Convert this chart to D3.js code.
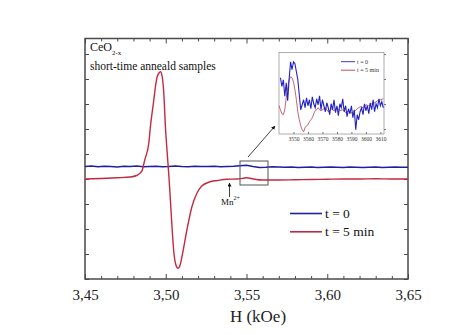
<!DOCTYPE html>
<html><head><meta charset="utf-8">
<script src="https://cdn.jsdelivr.net/npm/d3@7"></script>
<style>body{margin:0;background:#fff}svg{display:block}</style>
</head><body><div id="c"></div>
<script>
// ---------- DATA ----------
const xTicksMajor = [3.45, 3.50, 3.55, 3.60, 3.65];
const xTicksMinor = [3.46,3.47,3.48,3.49,3.51,3.52,3.53,3.54,3.56,3.57,3.58,3.59,3.61,3.62,3.63,3.64];
const yTicks = [0,1,2,3,4,5,6,7,8,9];
const seriesNames = ["t = 0", "t = 5 min"];
const seriesColors = ["#1f1fa0", "#c42a3e"];

// t = 0 (blue): H from 3.45 to 3.65 step 0.004
const blueStart = 3.45, blueStep = 0.004;
const blueVals = [4.50,4.52,4.49,4.51,4.50,4.48,4.51,4.50,4.52,4.49,4.50,4.51,4.49,4.50,4.52,4.50,4.49,4.51,4.50,4.50,4.51,4.49,4.50,4.51,4.53,4.55,4.50,4.46,4.47,4.49,4.48,4.47,4.48,4.46,4.47,4.48,4.46,4.47,4.48,4.47,4.46,4.48,4.47,4.46,4.47,4.48,4.46,4.47,4.48,4.47,4.47];

// t = 5 min (red)
const redH = [3.450,3.460,3.470,3.478,3.482,3.484,3.4855,3.486,3.487,3.4895,3.4905,3.4926,3.4936,3.4947,3.4957,3.4968,3.4978,3.4988,3.4998,3.5009,3.5019,3.5025,3.5040,3.5050,3.5063,3.5076,3.5089,3.5100,3.5131,3.5162,3.5193,3.5220,3.527,3.532,3.538,3.544,3.548,3.550,3.553,3.556,3.560,3.570,3.580,3.590,3.600,3.610,3.620,3.630,3.640,3.650];
const redVals = [4.00,4.02,4.05,4.08,4.14,4.23,4.36,4.49,4.76,5.43,6.09,7.16,7.69,8.09,8.23,8.29,8.09,7.43,6.09,5.04,4.16,3.56,1.96,1.08,0.56,0.43,0.56,0.88,1.96,2.89,3.43,3.70,3.88,3.94,3.99,4.00,4.03,4.05,4.02,3.98,3.96,3.96,3.97,3.98,3.99,4.00,4.00,4.01,4.00,4.00];

// inset (Oe)
const insetXTicks = [3550,3560,3570,3580,3590,3600,3610];
const insetYTicks = [0,1,2,3];
const insetBlueStart = 3541, insetBlueStep = 1;
const insetBlueVals = [2.05,1.70,1.97,1.31,1.85,1.13,2.01,2.69,2.37,2.69,2.61,2.29,1.97,1.37,0.77,0.97,1.17,0.85,1.25,0.93,1.17,0.81,1.29,1.01,0.85,1.21,0.97,1.33,0.77,1.17,0.93,0.69,1.05,0.85,0.57,1.01,0.77,1.17,0.65,0.93,0.53,1.01,0.85,1.21,0.69,0.93,0.49,0.81,0.61,0.93,0.45,0.77,-0.03,0.57,0.37,0.69,0.85,0.57,1.01,0.73,0.93,0.61,1.05,0.77,1.17,0.69,1.01,0.85,1.21,0.93,1.09,0.85];
const insetRedX = [3540,3541,3542,3543,3544,3545,3546,3547,3548,3549,3550,3551,3552,3553,3554,3555,3556,3557,3558,3559,3560,3561,3562,3563,3564,3565,3566,3567,3568,3569,3570,3572,3574,3576,3578,3580,3582,3584,3586,3588,3590,3592,3594,3596,3598,3600,3602,3604,3606,3608,3610,3612];
const insetRedVals = [0.93,0.77,0.61,0.57,0.77,1.25,1.65,1.97,2.09,2.05,1.89,1.57,1.17,0.69,0.37,0.13,-0.03,-0.11,0.05,0.13,0.17,0.29,0.37,0.45,0.61,0.73,0.77,0.85,0.77,0.73,0.77,0.85,0.69,0.81,0.73,0.85,0.73,0.77,0.65,0.73,0.65,0.69,0.81,0.89,0.85,0.97,0.93,1.01,1.05,1.13,1.17,1.21];

// ---------- LAYOUT ----------
const W = 474, H = 335;
const FONT = "'Liberation Serif', 'DejaVu Serif', serif";
const m = {left: 85, right: 408, top: 38.5, bottom: 279};
const svg = d3.select("#c").append("svg").attr("width", W).attr("height", H)
  .attr("font-family", FONT);

const x = d3.scaleLinear().domain([3.45, 3.65]).range([m.left, m.right]);
const y = d3.scaleLinear().domain([0, (m.bottom - m.top) / 25]).range([m.bottom, m.top]);
const frameColor = "#4a4a4a";
const fmt = v => d3.format(".2f")(v).replace(".", ",");

function styleAxis(g) {
  g.attr("font-family", FONT);
  g.select(".domain").remove();
  g.selectAll(".tick line").attr("stroke", frameColor).attr("stroke-width", 1);
}
// bottom major
svg.append("g").attr("transform", `translate(0,${m.bottom})`)
  .call(d3.axisBottom(x).tickValues(xTicksMajor).tickSizeInner(-5).tickSizeOuter(0).tickPadding(10).tickFormat(fmt))
  .call(styleAxis)
  .call(g => g.selectAll("text").attr("font-size", 15).attr("fill", "#222").attr("dy", "0.71em"));
svg.append("g").attr("transform", `translate(0,${m.bottom})`)
  .call(d3.axisBottom(x).tickValues(xTicksMinor).tickSizeInner(-3).tickSizeOuter(0).tickFormat(""))
  .call(styleAxis);
// top
svg.append("g").attr("transform", `translate(0,${m.top})`)
  .call(d3.axisTop(x).tickValues(xTicksMajor).tickSizeInner(-5).tickSizeOuter(0).tickFormat(""))
  .call(styleAxis);
svg.append("g").attr("transform", `translate(0,${m.top})`)
  .call(d3.axisTop(x).tickValues(xTicksMinor).tickSizeInner(-3).tickSizeOuter(0).tickFormat(""))
  .call(styleAxis);
// left/right
svg.append("g").attr("transform", `translate(${m.left},0)`)
  .call(d3.axisLeft(y).tickValues(yTicks).tickSizeInner(-4).tickSizeOuter(0).tickFormat(""))
  .call(styleAxis);
svg.append("g").attr("transform", `translate(${m.right},0)`)
  .call(d3.axisRight(y).tickValues(yTicks).tickSizeInner(-4).tickSizeOuter(0).tickFormat(""))
  .call(styleAxis);

svg.append("rect").attr("x", m.left).attr("y", m.top)
  .attr("width", m.right - m.left).attr("height", m.bottom - m.top)
  .attr("fill", "none").attr("stroke", frameColor).attr("stroke-width", 1.5);

// axis title
svg.append("text").attr("x", 258).attr("y", 322).attr("text-anchor", "middle")
  .attr("font-size", 17).attr("fill", "#222").text("H (kOe)");

// lines
const line = d3.line().x(d => x(d[0])).y(d => y(d[1]));
const blueData = blueVals.map((v, i) => [blueStart + i * blueStep, v]);
const redData = redVals.map((v, i) => [redH[i], v]);
svg.append("path").datum(blueData).attr("d", line).attr("fill", "none")
  .attr("stroke", seriesColors[0]).attr("stroke-width", 1.6);
svg.append("path").datum(redData).attr("d", d3.line().x(d => x(d[0])).y(d => y(d[1])).curve(d3.curveMonotoneX)).attr("fill", "none")
  .attr("stroke", seriesColors[1]).attr("stroke-width", 1.4);

// annotations
const t1 = svg.append("text").attr("x", 90).attr("y", 51).attr("font-size", 12).attr("fill", "#111");
t1.append("tspan").text("CeO");
t1.append("tspan").attr("font-size", 7).attr("dy", 4).text("2-x");
svg.append("text").attr("x", 90).attr("y", 70).attr("font-size", 11.5).attr("fill", "#111")
  .text("short-time anneald samples");

// Mn2+ marker
const defs = svg.append("defs");
defs.append("marker").attr("id", "ah").attr("viewBox", "0 0 10 10").attr("refX", 9).attr("refY", 5)
  .attr("markerWidth", 5).attr("markerHeight", 5).attr("orient", "auto")
  .append("path").attr("d", "M0,0 L10,5 L0,10 z").attr("fill", "#111");
svg.append("line").attr("x1", 229.5).attr("y1", 197).attr("x2", 229.5).attr("y2", 183)
  .attr("stroke", "#111").attr("stroke-width", 0.8).attr("marker-end", "url(#ah)");
const mn = svg.append("text").attr("x", 221).attr("y", 205).attr("font-size", 9).attr("fill", "#111");
mn.append("tspan").text("Mn");
mn.append("tspan").attr("font-size", 6).attr("dy", -5).text("2+");

// zoom box and arrow
svg.append("rect").attr("x", 240).attr("y", 161).attr("width", 28).attr("height", 24)
  .attr("fill", "none").attr("stroke", "#555").attr("stroke-width", 1);
svg.append("line").attr("x1", 248).attr("y1", 157).attr("x2", 275).attr("y2", 126)
  .attr("stroke", "#111").attr("stroke-width", 0.8).attr("marker-end", "url(#ah)");

// ---------- INSET ----------
const im = {left: 279, right: 384, top: 52.5, bottom: 134};
const ix = d3.scaleLinear().domain([3540, 3612.5]).range([im.left, im.right]);
const iy = d3.scaleLinear().domain([-0.2, (im.bottom - im.top) / 25 - 0.2]).range([im.bottom, im.top]);
const ig = svg.append("g");
ig.append("rect").attr("x", im.left).attr("y", im.top).attr("width", im.right - im.left)
  .attr("height", im.bottom - im.top).attr("fill", "#fff").attr("stroke", "#999").attr("stroke-width", 0.8);
ig.append("g").attr("transform", `translate(0,${im.bottom})`)
  .call(d3.axisBottom(ix).tickValues(insetXTicks).tickSizeInner(-2).tickSizeOuter(0).tickPadding(3).tickFormat(d3.format("d")))
  .call(g => { g.attr("font-family", FONT); g.select(".domain").remove(); g.selectAll("line").attr("stroke", "#777"); })
  .call(g => g.selectAll("text").attr("font-size", 5.5).attr("fill", "#333"));
ig.append("g").attr("transform", `translate(${im.right},0)`)
  .call(d3.axisRight(iy).tickValues(insetYTicks).tickSizeInner(2).tickSizeOuter(0).tickFormat(""))
  .call(g => { g.select(".domain").remove(); g.selectAll("line").attr("stroke", "#777"); });
const iline = d3.line().x(d => ix(d[0])).y(d => iy(d[1]));
ig.append("path").datum(insetRedVals.map((v, i) => [insetRedX[i], v])).attr("d", iline)
  .attr("fill", "none").attr("stroke", "#b0404f").attr("stroke-width", 0.8);
ig.append("path").datum(insetBlueVals.map((v, i) => [insetBlueStart + i * insetBlueStep, v])).attr("d", iline)
  .attr("fill", "none").attr("stroke", "#2222c0").attr("stroke-width", 1.1);
// inset legend
seriesNames.forEach((n, i) => {
  const yy = 61.7 + i * 8.5;
  ig.append("line").attr("x1", 341).attr("x2", 355).attr("y1", yy).attr("y2", yy)
    .attr("stroke", i ? "#b0404f" : "#2222c0").attr("stroke-width", 0.9);
  ig.append("text").attr("x", 357).attr("y", yy + 2).attr("font-size", 6).attr("fill", "#333").text(n);
});

// main legend
seriesNames.forEach((n, i) => {
  const yy = 213.5 + i * 18.3;
  svg.append("line").attr("x1", 290).attr("x2", 322).attr("y1", yy).attr("y2", yy)
    .attr("stroke", seriesColors[i]).attr("stroke-width", 1.6);
  svg.append("text").attr("x", 325).attr("y", yy + 4.5).attr("font-size", 13.5).attr("fill", "#111").text(n);
});
</script></body></html>
